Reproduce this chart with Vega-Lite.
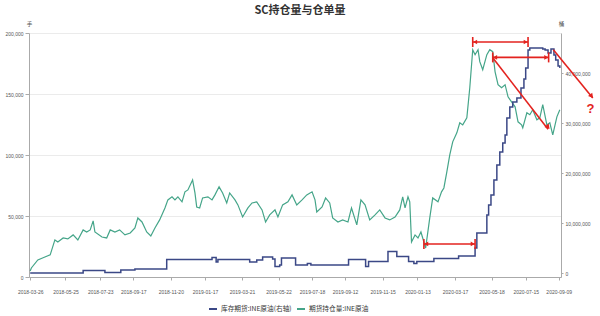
{
  "$schema": "https://vega.github.io/schema/vega-lite/v6.json",
  "width": 532,
  "height": 244,
  "autosize": {"type": "none"},
  "padding": {"left": 29, "top": 33, "right": 39, "bottom": 39},
  "background": "white",
  "config": {
    "font": "Noto Sans CJK SC",
    "view": {"stroke": null},
    "axis": {"labelFont": "Liberation Sans", "labelColor": "#555", "labelFontSize": 5, "domainColor": "#aaa", "tickColor": "#aaa", "titleFont": "Noto Sans CJK SC", "titleFontSize": 5.5, "titleColor": "#555", "titleFontWeight": "normal"},
    "legend": {"symbolType": "stroke", "symbolSize": 64, "symbolStrokeWidth": 2, "labelFontSize": 6.7, "labelColor": "#333", "labelFont": "Noto Sans CJK SC", "columnPadding": 1, "labelOffset": 3, "padding": 0}
  },
  "title": {"text": "SC持仓量与仓单量", "fontSize": 11, "fontWeight": "bold", "color": "#333", "anchor": "middle", "frame": "group", "offset": 5, "dx": 5},
  "datasets": {
    "green": [
      {"date": "2018-03-26", "v": 4900}, {"date": "2018-03-28", "v": 7400}, {"date": "2018-04-08", "v": 14000}, {"date": "2018-04-20", "v": 16400}, {"date": "2018-04-29", "v": 18100},
      {"date": "2018-05-07", "v": 30400}, {"date": "2018-05-12", "v": 28700}, {"date": "2018-05-21", "v": 32000}, {"date": "2018-05-29", "v": 31200}, {"date": "2018-06-07", "v": 34500},
      {"date": "2018-06-15", "v": 30400}, {"date": "2018-06-24", "v": 38600}, {"date": "2018-06-30", "v": 36900}, {"date": "2018-07-06", "v": 38600}, {"date": "2018-07-11", "v": 46000},
      {"date": "2018-07-14", "v": 36900}, {"date": "2018-07-26", "v": 32800}, {"date": "2018-08-03", "v": 32000}, {"date": "2018-08-09", "v": 38600}, {"date": "2018-08-17", "v": 36900},
      {"date": "2018-08-25", "v": 38600}, {"date": "2018-09-03", "v": 34500}, {"date": "2018-09-12", "v": 36100}, {"date": "2018-09-20", "v": 40200}, {"date": "2018-09-25", "v": 48400},
      {"date": "2018-10-02", "v": 45100}, {"date": "2018-10-10", "v": 36900}, {"date": "2018-10-17", "v": 33600}, {"date": "2018-10-24", "v": 40200}, {"date": "2018-11-01", "v": 46800},
      {"date": "2018-11-10", "v": 56600}, {"date": "2018-11-15", "v": 63200}, {"date": "2018-11-22", "v": 65700}, {"date": "2018-11-27", "v": 63200}, {"date": "2018-12-02", "v": 65700},
      {"date": "2018-12-09", "v": 61600}, {"date": "2018-12-14", "v": 69800}, {"date": "2018-12-19", "v": 71400}, {"date": "2018-12-27", "v": 79600}, {"date": "2018-12-31", "v": 68900},
      {"date": "2019-01-03", "v": 57400}, {"date": "2019-01-08", "v": 56600}, {"date": "2019-01-13", "v": 64800}, {"date": "2019-01-22", "v": 65700}, {"date": "2019-01-29", "v": 63200},
      {"date": "2019-02-03", "v": 67300}, {"date": "2019-02-10", "v": 73900}, {"date": "2019-02-16", "v": 68900}, {"date": "2019-02-23", "v": 60700}, {"date": "2019-02-28", "v": 68900},
      {"date": "2019-03-09", "v": 63200}, {"date": "2019-03-14", "v": 59100}, {"date": "2019-03-22", "v": 49200}, {"date": "2019-03-31", "v": 56600}, {"date": "2019-04-07", "v": 60700},
      {"date": "2019-04-15", "v": 61600}, {"date": "2019-04-24", "v": 55000}, {"date": "2019-04-30", "v": 45100}, {"date": "2019-05-07", "v": 50900}, {"date": "2019-05-16", "v": 55000},
      {"date": "2019-05-21", "v": 49200}, {"date": "2019-05-29", "v": 59100}, {"date": "2019-06-07", "v": 61600}, {"date": "2019-06-14", "v": 67300}, {"date": "2019-06-22", "v": 59100},
      {"date": "2019-07-01", "v": 63200}, {"date": "2019-07-09", "v": 67300}, {"date": "2019-07-18", "v": 69800}, {"date": "2019-07-23", "v": 63200}, {"date": "2019-07-26", "v": 53300},
      {"date": "2019-08-04", "v": 57400}, {"date": "2019-08-10", "v": 64800}, {"date": "2019-08-17", "v": 60700}, {"date": "2019-08-22", "v": 48400}, {"date": "2019-08-31", "v": 45100},
      {"date": "2019-09-08", "v": 46800}, {"date": "2019-09-17", "v": 45100}, {"date": "2019-09-23", "v": 56600}, {"date": "2019-10-02", "v": 42700}, {"date": "2019-10-09", "v": 63200},
      {"date": "2019-10-16", "v": 59100}, {"date": "2019-10-24", "v": 46800}, {"date": "2019-11-02", "v": 50900}, {"date": "2019-11-10", "v": 55000}, {"date": "2019-11-19", "v": 48400},
      {"date": "2019-11-27", "v": 46800}, {"date": "2019-12-06", "v": 49200}, {"date": "2019-12-14", "v": 55000}, {"date": "2019-12-19", "v": 65700}, {"date": "2019-12-23", "v": 56600},
      {"date": "2019-12-28", "v": 65700}, {"date": "2019-12-31", "v": 61600}, {"date": "2020-01-03", "v": 28700}, {"date": "2020-01-09", "v": 34500}, {"date": "2020-01-14", "v": 32000},
      {"date": "2020-01-19", "v": 36900}, {"date": "2020-01-22", "v": 32000}, {"date": "2020-01-27", "v": 23800}, {"date": "2020-02-03", "v": 48400}, {"date": "2020-02-08", "v": 64800},
      {"date": "2020-02-17", "v": 61600}, {"date": "2020-02-23", "v": 69800}, {"date": "2020-02-27", "v": 73000}, {"date": "2020-03-03", "v": 86200}, {"date": "2020-03-08", "v": 100100},
      {"date": "2020-03-13", "v": 110800}, {"date": "2020-03-20", "v": 118200}, {"date": "2020-03-25", "v": 126400}, {"date": "2020-03-30", "v": 124700}, {"date": "2020-04-06", "v": 130500},
      {"date": "2020-04-11", "v": 155100}, {"date": "2020-04-16", "v": 186300}, {"date": "2020-04-20", "v": 182200}, {"date": "2020-04-25", "v": 186300}, {"date": "2020-04-28", "v": 176500},
      {"date": "2020-05-03", "v": 169900}, {"date": "2020-05-10", "v": 182200}, {"date": "2020-05-15", "v": 186300}, {"date": "2020-05-20", "v": 184700}, {"date": "2020-05-24", "v": 168200},
      {"date": "2020-05-29", "v": 157600}, {"date": "2020-06-04", "v": 155100}, {"date": "2020-06-10", "v": 157600}, {"date": "2020-06-15", "v": 147700}, {"date": "2020-06-21", "v": 143600},
      {"date": "2020-06-27", "v": 139500}, {"date": "2020-07-02", "v": 127200}, {"date": "2020-07-08", "v": 124700}, {"date": "2020-07-10", "v": 122300}, {"date": "2020-07-17", "v": 134600},
      {"date": "2020-07-22", "v": 133000}, {"date": "2020-07-27", "v": 137100}, {"date": "2020-08-03", "v": 128900}, {"date": "2020-08-08", "v": 130500}, {"date": "2020-08-13", "v": 141200},
      {"date": "2020-08-20", "v": 124700}, {"date": "2020-08-25", "v": 126400}, {"date": "2020-08-30", "v": 116500}, {"date": "2020-09-06", "v": 131300}, {"date": "2020-09-11", "v": 137100}
    ],
    "blue": [
      {"date": "2018-03-26", "v": 0}, {"date": "2018-06-24", "v": 500000}, {"date": "2018-07-31", "v": 100000}, {"date": "2018-08-27", "v": 600000}, {"date": "2018-09-20", "v": 800000},
      {"date": "2018-11-13", "v": 2700000}, {"date": "2019-01-29", "v": 3100000}, {"date": "2019-02-05", "v": 2200000}, {"date": "2019-02-08", "v": 2700000}, {"date": "2019-04-03", "v": 2200000},
      {"date": "2019-04-15", "v": 2600000}, {"date": "2019-04-25", "v": 3200000}, {"date": "2019-05-12", "v": 2800000}, {"date": "2019-05-16", "v": 1300000}, {"date": "2019-05-24", "v": 1600000},
      {"date": "2019-05-27", "v": 3000000}, {"date": "2019-06-20", "v": 1600000}, {"date": "2019-07-10", "v": 1900000}, {"date": "2019-07-16", "v": 1600000}, {"date": "2019-09-18", "v": 2700000},
      {"date": "2019-10-17", "v": 1300000}, {"date": "2019-10-22", "v": 2300000}, {"date": "2019-11-24", "v": 4300000}, {"date": "2019-12-09", "v": 3300000}, {"date": "2019-12-29", "v": 2300000},
      {"date": "2020-01-07", "v": 1900000}, {"date": "2020-01-12", "v": 2300000}, {"date": "2020-02-10", "v": 2900000}, {"date": "2020-03-23", "v": 3400000}, {"date": "2020-04-20", "v": 5000000},
      {"date": "2020-04-23", "v": 8000000}, {"date": "2020-05-10", "v": 11600000}, {"date": "2020-05-13", "v": 13600000}, {"date": "2020-05-17", "v": 15600000}, {"date": "2020-05-22", "v": 18600000},
      {"date": "2020-05-27", "v": 21600000}, {"date": "2020-06-01", "v": 24200000}, {"date": "2020-06-06", "v": 26000000}, {"date": "2020-06-10", "v": 27600000}, {"date": "2020-06-13", "v": 31000000},
      {"date": "2020-06-18", "v": 33200000}, {"date": "2020-06-23", "v": 34200000}, {"date": "2020-06-30", "v": 35000000}, {"date": "2020-07-07", "v": 37000000}, {"date": "2020-07-12", "v": 38800000},
      {"date": "2020-07-15", "v": 41000000}, {"date": "2020-07-19", "v": 44600000}, {"date": "2020-07-22", "v": 45000000}, {"date": "2020-08-13", "v": 44800000}, {"date": "2020-08-17", "v": 44600000},
      {"date": "2020-08-22", "v": 44000000}, {"date": "2020-08-27", "v": 44800000}, {"date": "2020-09-01", "v": 43600000}, {"date": "2020-09-04", "v": 42600000}, {"date": "2020-09-08", "v": 41400000},
      {"date": "2020-09-11", "v": 41000000}
    ],
    "arrows": [
      {"date": "2020-01-24", "v1": 27100, "date2": "2020-04-20", "v2": 27100},
      {"date": "2020-04-16", "v1": 192600, "date2": "2020-07-19", "v2": 192600},
      {"date": "2020-05-20", "v1": 180000, "date2": "2020-08-23", "v2": 180000},
      {"date": "2020-05-20", "v1": 179700, "date2": "2020-08-22", "v2": 121200},
      {"date": "2020-08-31", "v1": 186300, "date2": "2020-11-06", "v2": 146700}
    ],
    "bars": [
      {"date": "2020-01-24", "lo": 23000, "hi": 31200}, {"date": "2020-04-20", "lo": 23000, "hi": 31200},
      {"date": "2020-04-16", "lo": 188500, "hi": 196700}, {"date": "2020-07-19", "lo": 188500, "hi": 196700},
      {"date": "2020-05-20", "lo": 175900, "hi": 184100}, {"date": "2020-08-23", "lo": 175900, "hi": 184100}
    ],
    "headsL": [{"date": "2020-01-28", "v": 27100}, {"date": "2020-04-20", "v": 192600}, {"date": "2020-05-24", "v": 180000}],
    "headsR": [{"date": "2020-04-16", "v": 27100}, {"date": "2020-07-15", "v": 192600}, {"date": "2020-08-19", "v": 180000}],
    "headsD": [{"date": "2020-08-22", "v": 122800}, {"date": "2020-11-04", "v": 148200}],
    "q": [{"date": "2020-11-02", "v": 137600, "label": "?"}]
  },
  "encoding": {
    "x": {"field": "date", "type": "temporal",
      "scale": {"domain": [{"year": 2018, "month": 3, "date": 24}, {"year": 2020, "month": 9, "date": 13}]},
      "axis": {"title": null, "format": "%Y-%m-%d", "labelAngle": 0, "labelFlush": false, "labelOverlap": false, "tickSize": 3, "labelPadding": 9, "grid": false,
        "values": [{"year": 2018, "month": 3, "date": 26}, {"year": 2018, "month": 5, "date": 25}, {"year": 2018, "month": 7, "date": 23}, {"year": 2018, "month": 9, "date": 17},
          {"year": 2018, "month": 11, "date": 20}, {"year": 2019, "month": 1, "date": 17}, {"year": 2019, "month": 3, "date": 21}, {"year": 2019, "month": 5, "date": 22},
          {"year": 2019, "month": 7, "date": 18}, {"year": 2019, "month": 9, "date": 12}, {"year": 2019, "month": 11, "date": 15}, {"year": 2020, "month": 1, "date": 13},
          {"year": 2020, "month": 3, "date": 17}, {"year": 2020, "month": 5, "date": 18}, {"year": 2020, "month": 7, "date": 15}, {"year": 2020, "month": 9, "date": 9}]}}
  },
  "layer": [
    {
      "data": {"name": "green"},
      "mark": {"type": "line", "strokeWidth": 1.2},
      "encoding": {
        "y": {"field": "v", "type": "quantitative",
          "scale": {"domain": [0, 200000], "nice": false, "zero": false},
          "axis": {"orient": "left", "title": "手", "titleAngle": 0, "titleX": 0, "titleY": -10, "titleAlign": "center", "titleBaseline": "middle",
            "values": [0, 50000, 100000, 150000, 200000], "format": ",d", "tickSize": 4, "labelPadding": 2, "grid": true, "gridColor": "#e6e6e6", "gridWidth": 0.8}},
        "color": {"datum": "期货持仓量:INE原油", "type": "nominal",
          "scale": {"domain": ["库存期货:INE原油(右轴)", "期货持仓量:INE原油"], "range": ["#3b4886", "#45a589"]},
          "legend": {"title": null, "orient": "none", "legendX": 179, "legendY": 271, "direction": "horizontal"}}
      }
    },
    {
      "data": {"name": "blue"},
      "mark": {"type": "line", "interpolate": "step-after", "strokeWidth": 1.5},
      "encoding": {
        "y": {"field": "v", "type": "quantitative",
          "scale": {"domain": [-800000, 48000000], "nice": false, "zero": false},
          "axis": {"orient": "right", "title": "桶", "titleAngle": 0, "titleX": 0, "titleY": -10, "titleAlign": "center", "titleBaseline": "middle",
            "values": [0, 10000000, 20000000, 30000000, 40000000], "format": ",d", "tickSize": 2, "labelPadding": 2, "grid": false}},
        "color": {"datum": "库存期货:INE原油(右轴)", "type": "nominal",
          "scale": {"domain": ["库存期货:INE原油(右轴)", "期货持仓量:INE原油"], "range": ["#3b4886", "#45a589"]},
          "legend": {"title": null, "orient": "none", "legendX": 179, "legendY": 271, "direction": "horizontal"}}
      }
    },
    {
      "data": {"name": "arrows"},
      "mark": {"type": "rule", "color": "#e3231f", "strokeWidth": 1.6},
      "encoding": {
        "x2": {"field": "date2"},
        "y": {"field": "v1", "type": "quantitative", "scale": {"domain": [0, 200000], "nice": false, "zero": false}, "axis": null},
        "y2": {"field": "v2"}
      }
    },
    {
      "data": {"name": "bars"},
      "mark": {"type": "rule", "color": "#e3231f", "strokeWidth": 1.6},
      "encoding": {
        "y": {"field": "lo", "type": "quantitative", "scale": {"domain": [0, 200000], "nice": false, "zero": false}, "axis": null},
        "y2": {"field": "hi"}
      }
    },
    {
      "data": {"name": "headsL"},
      "mark": {"type": "point", "shape": "triangle-left", "filled": true, "color": "#e3231f", "size": 22, "opacity": 1},
      "encoding": {
        "y": {"field": "v", "type": "quantitative", "scale": {"domain": [0, 200000], "nice": false, "zero": false}, "axis": null}
      }
    },
    {
      "data": {"name": "headsR"},
      "mark": {"type": "point", "shape": "triangle-right", "filled": true, "color": "#e3231f", "size": 22, "opacity": 1},
      "encoding": {
        "y": {"field": "v", "type": "quantitative", "scale": {"domain": [0, 200000], "nice": false, "zero": false}, "axis": null}
      }
    },
    {
      "data": {"name": "headsD"},
      "mark": {"type": "point", "shape": "triangle-up", "angle": 141, "filled": true, "color": "#e3231f", "size": 30, "opacity": 1},
      "encoding": {
        "y": {"field": "v", "type": "quantitative", "scale": {"domain": [0, 200000], "nice": false, "zero": false}, "axis": null}
      }
    },
    {
      "data": {"name": "q"},
      "mark": {"type": "text", "color": "#e3231f", "fontSize": 13, "fontWeight": "bold", "font": "Liberation Sans", "baseline": "middle", "align": "center"},
      "encoding": {
        "y": {"field": "v", "type": "quantitative", "scale": {"domain": [0, 200000], "nice": false, "zero": false}, "axis": null},
        "text": {"field": "label"}
      }
    }
  ],
  "resolve": {"scale": {"y": "independent"}}
}
